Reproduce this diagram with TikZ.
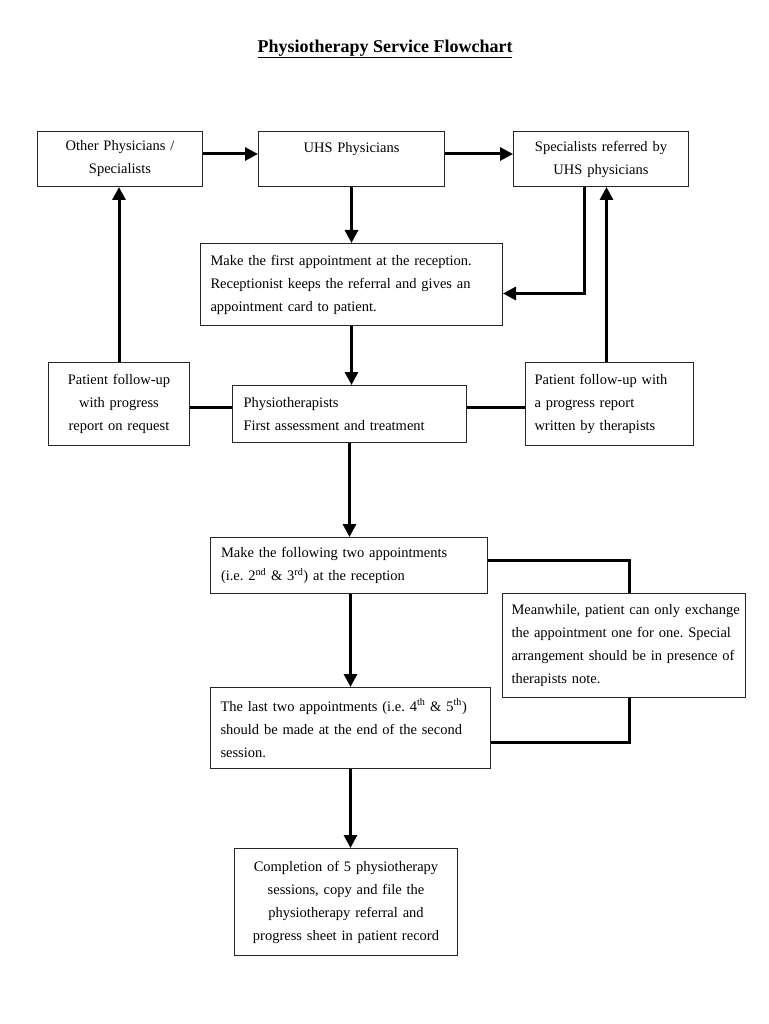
\documentclass[tikz,border=0pt]{standalone}
\usepackage{fontspec}
\setmainfont{Liberation Serif}
\usetikzlibrary{arrows.meta}
\newcommand{\oneline}[1]{\mbox{#1}}
\hbadness=10000 \hfuzz=100pt
\frenchspacing
\begin{document}
\begin{tikzpicture}[x=1pt,y=-1pt,
  box/.style={draw=black!85,line width=1pt,anchor=north west,inner ysep=2pt,
    font=\fontsize{14.5}{23}\selectfont},
  arr/.style={line width=3pt,-{Triangle[length=13pt,width=13pt]}},
  conn/.style={line width=3pt}]
\useasboundingbox (0,0) rectangle (768,1024);
\node (title) at (385,49) {\fontsize{18}{20}\selectfont\bfseries\underline{Physiotherapy Service Flowchart}};
\node[box,minimum width=165pt,minimum height=55pt,text width=155pt,inner xsep=5pt,align=center] (A) at (37,131) {\oneline{Other Physicians /}\\\oneline{Specialists}};
\node[box,minimum width=186pt,minimum height=55pt,text width=176pt,inner xsep=5pt,align=center] (B) at (258,131) {\oneline{UHS Physicians}\\\mbox{}};
\node[box,minimum width=175pt,minimum height=55pt,text width=165pt,inner xsep=5pt,align=center] (C) at (513,131) {\oneline{Specialists referred by}\\\oneline{UHS physicians}};
\node[box,minimum width=302pt,minimum height=82pt,text width=282pt,inner xsep=10pt,align=left] (D) at (200,243) {\oneline{Make the first appointment at the reception.}\\\oneline{Receptionist keeps the referral and gives an}\\\oneline{appointment card to patient.}};
\node[box,minimum width=141pt,minimum height=83pt,text width=135pt,inner xsep=3pt,align=center] (L) at (48,362) {\oneline{Patient follow-up}\\\oneline{with progress}\\\oneline{report on request}};
\node[box,minimum width=234pt,minimum height=57pt,text width=212pt,inner xsep=11pt,align=left] (E) at (232,385) {\oneline{Physiotherapists}\\\oneline{First assessment and treatment}};
\node[box,minimum width=167pt,minimum height=83pt,text width=150pt,inner xsep=9pt,align=left] (R) at (525,362) {\oneline{Patient follow-up with}\\\oneline{a progress report}\\\oneline{written by therapists}};
\node[box,minimum width=277pt,minimum height=56pt,text width=256pt,inner xsep=10pt,align=left] (F) at (210,537) {\oneline{Make the following two appointments}\\\oneline{(i.e. 2\textsuperscript{nd} \& 3\textsuperscript{rd}) at the reception}};
\node[box,minimum width=243pt,minimum height=104pt,text width=225pt,inner xsep=9pt,align=left] (G) at (502,593) {\oneline{Meanwhile, patient can only exchange}\\\oneline{the appointment one for one. Special}\\\oneline{arrangement should be in presence of}\\\oneline{therapists note.}};
\node[box,minimum width=280pt,minimum height=81pt,text width=260pt,inner xsep=10pt,align=left] (H) at (210,687) {\oneline{The last two appointments (i.e. 4\textsuperscript{th} \& 5\textsuperscript{th})}\\\oneline{should be made at the end of the second}\\\oneline{session.}};
\node[box,minimum width=223pt,minimum height=107pt,text width=215pt,inner xsep=4pt,align=center] (I) at (234,848) {\oneline{Completion of 5 physiotherapy}\\\oneline{sessions, copy and file the}\\\oneline{physiotherapy referral and}\\\oneline{progress sheet in patient record}};
% connectors
\draw[arr] ([yshift=5pt]A.east) -- ([yshift=5pt]B.west);
\draw[arr] ([yshift=5pt]B.east) -- ([yshift=5pt]C.west);
\draw[arr] (B.south) -- (B.south |- D.north);
\draw[arr] ([xshift=-17pt]C.south) |- ([yshift=-9pt]D.east);
\draw[arr] ([xshift=-3pt]R.north) -- ([xshift=-3pt]R.north |- C.south);
\draw[arr] (L.north) -- (L.north |- A.south);
\draw[arr] (D.south) -- (D.south |- E.north);
\draw[conn] ([yshift=-3.5pt]L.east) -- ([yshift=-3.5pt]L.east -| E.west);
\draw[conn] ([yshift=6.5pt]E.east) -- ([yshift=6.5pt]E.east -| R.west);
\draw[arr] (E.south) -- (E.south |- F.north);
\draw[conn] ([yshift=5pt]F.east) -| ([xshift=5.5pt]G.north);
\draw[conn] ([xshift=5.5pt]G.south) |- ([yshift=-14.5pt]H.east);
\draw[arr] ([xshift=1.5pt]F.south) -- ([xshift=1.5pt]F.south |- H.north);
\draw[arr] (H.south) -- (H.south |- I.north);
\end{tikzpicture}
\end{document}
